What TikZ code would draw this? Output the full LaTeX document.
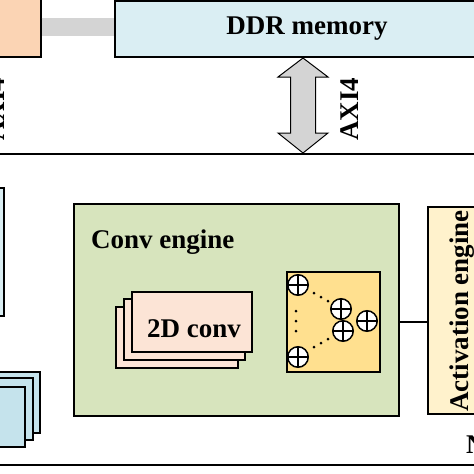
\documentclass[tikz,border=0pt]{standalone}
\usepackage{fontspec}
\setmainfont{Liberation Serif}
\definecolor{ddrc}{HTML}{DAEEF3}
\definecolor{orc}{HTML}{FBD4B4}
\definecolor{barc}{HTML}{D4D4D4}
\definecolor{convc}{HTML}{D7E4BD}
\definecolor{twoc}{HTML}{FCE4D6}
\definecolor{addc}{HTML}{FFE08F}
\definecolor{actc}{HTML}{FFF2CC}
\definecolor{stkc}{HTML}{C5E3EC}
\begin{document}
\begin{tikzpicture}[x=1pt,y=-1pt,
  box/.style={draw=black, line width=1.4pt, inner sep=0pt, outer sep=0pt, anchor=north west},
  lbl/.style={font=\fontsize{27}{31}\selectfont\bfseries, inner sep=0pt},
  adder/.style={circle, draw=black, line width=1.5pt, fill=white, minimum size=20.5pt, inner sep=0pt,
    path picture={\draw[line width=1.2pt] (path picture bounding box.north) -- (path picture bounding box.south)
      (path picture bounding box.west) -- (path picture bounding box.east);}},
  dotm/.style={circle, fill=black, inner sep=0pt, minimum size=3pt},
  bus/.style={line width=1.5pt}]
\useasboundingbox (0,0) rectangle (474,474);
\clip (0,0) rectangle (474,474);
% top
\node[box, fill=orc, minimum width=60, minimum height=60] (cpu) at (-19,-3) {};
\node[box, fill=ddrc, minimum width=380, minimum height=56] (ddr) at (115,1) {};
\node[lbl] (ddrl) at (307,29) {DDR memory};
\coordinate (barm) at (0,27);
\draw[barc, line width=18pt] ([xshift=0.7pt]cpu.east |- barm) -- ([xshift=-0.7pt]ddr.west |- barm);
% AXI4 arrow
\coordinate (atop) at (303,58);
\coordinate (abot) at (303,153);
\draw[line width=1pt, fill=barc] (atop) -- ++(25,19) -- ++(-12.5,0) -- ++(0,56) -- ++(12.5,0)
  -- (abot) -- ++(-25,-20) -- ++(12.5,0) -- ++(0,-56) -- ++(-12.5,0) -- cycle;
\node[lbl, rotate=90, anchor=base] (axr) at (358,109) {AXI4};
\node[lbl, rotate=90, anchor=base] (axl) at (5,109) {AXI4};
% bus lines
\coordinate (busL) at (-5,154);
\coordinate (busR) at (480,154);
\draw[bus] (busL) -- (busR);
\coordinate (botL) at (-5,465);
\coordinate (botR) at (480,465);
\draw[bus] (botL) -- (botR);
% left
\node[box, fill=ddrc, minimum width=24, minimum height=128] (tall) at (-20,188) {};
\node[box, fill=stkc, minimum width=70, minimum height=61] (s1) at (-30,372) {};
\node[box, fill=stkc, minimum width=63, minimum height=62] (s2) at (-30,378) {};
\node[box, fill=stkc, minimum width=55, minimum height=60] (s3) at (-30,387) {};
% conv engine
\node[box, fill=convc, minimum width=325, minimum height=212] (conv) at (74,204) {};
\node[lbl, anchor=base west] (convl) at (91,248) {Conv engine};
\node[box, fill=twoc, minimum width=122, minimum height=61] (c1) at (116,307) {};
\node[box, fill=twoc, minimum width=121, minimum height=61] (c2) at (124,299) {};
\node[box, fill=twoc, minimum width=120, minimum height=60] (c3) at (132,292) {};
\node[lbl, anchor=base west] (c3l) at (147,337) {2D conv};
% adder tree
\node[box, fill=addc, minimum width=93, minimum height=100] (add) at (287,272) {};
\node[adder] (a1) at (298,285) {};
\node[adder] (a2) at (341,309) {};
\node[adder] (a3) at (367,321) {};
\node[adder] (a4) at (343,331) {};
\node[adder] (a5) at (298,357) {};
\foreach \p [count=\i] in {(296,311),(296,321),(296,331),(314,293),(321,297),(328,301),(314,347),(321,343),(328,339)}
  \node[dotm] (d\i) at \p {};
% activation
\node[box, fill=actc, minimum width=70, minimum height=207] (act) at (428,207) {};
\node[lbl, rotate=90, anchor=base] (actl) at (468,311) {Activation engine};
\coordinate (lk) at (0,322);
\draw[line width=1.4pt] (conv.east |- lk) -- (act.west |- lk);
\node[lbl, anchor=base west] (nl) at (466,453) {N};
\end{tikzpicture}
\end{document}
